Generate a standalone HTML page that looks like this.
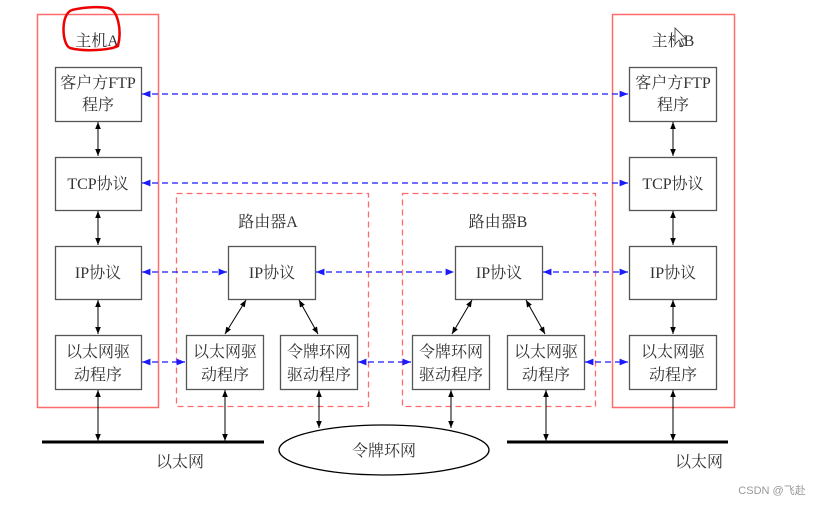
<!DOCTYPE html>
<html><head><meta charset="utf-8"><style>
html,body{margin:0;padding:0;background:#fff;}
svg{display:block;}
text{font-family:"Liberation Serif","Noto Serif CJK SC","Noto Sans CJK SC",serif;font-size:16px;fill:#333;text-anchor:middle;}
</style></head><body>
<svg width="835" height="505" viewBox="0 0 835 505" xmlns="http://www.w3.org/2000/svg">
<defs>
<marker id="bk" viewBox="0 0 10 10" refX="10" refY="5" markerWidth="7" markerHeight="7" orient="auto-start-reverse"><path d="M0,1 L10,5 L0,9 z" fill="#000"/></marker>
<marker id="bl" viewBox="0 0 10 10" refX="10" refY="5" markerWidth="7" markerHeight="7" orient="auto-start-reverse"><path d="M0,1 L10,5 L0,9 z" fill="#1a1aff"/></marker>
</defs>
<rect x="37.5" y="14.5" width="121" height="393" fill="none" stroke="#ff6b6b" stroke-width="1.5"/>
<rect x="612.5" y="14.5" width="122" height="393" fill="none" stroke="#ff6b6b" stroke-width="1.5"/>
<rect x="176.5" y="193.5" width="192" height="213" fill="none" stroke="#ff6b6b" stroke-width="1.3" stroke-dasharray="6,4"/>
<rect x="402.5" y="193.5" width="193" height="213" fill="none" stroke="#ff6b6b" stroke-width="1.3" stroke-dasharray="6,4"/>
<text x="97" y="46">主机A</text>
<text x="673" y="46">主机B</text>
<text x="268" y="227">路由器A</text>
<text x="498" y="227">路由器B</text>
<path d="M72,10 C60,14 62,45 70,48 C85,52 110,50 118,46 C122,30 118,10 108,8 C95,6 80,8 72,10" fill="none" stroke="#e00" stroke-width="2.5"/>
<g fill="#fff" stroke="#555" stroke-width="1.3">
<rect x="55.5" y="67.5" width="86" height="54"/>
<rect x="55.5" y="157.5" width="86" height="53"/>
<rect x="55.5" y="246.5" width="86" height="53"/>
<rect x="55.5" y="335.5" width="86" height="54"/>
<rect x="629.5" y="67.5" width="87" height="54"/>
<rect x="629.5" y="157.5" width="87" height="53"/>
<rect x="629.5" y="246.5" width="87" height="53"/>
<rect x="629.5" y="335.5" width="87" height="54"/>
<rect x="228.5" y="246.5" width="87" height="53"/>
<rect x="455.5" y="246.5" width="87" height="53"/>
<rect x="186.5" y="335.5" width="77" height="54"/>
<rect x="280.5" y="335.5" width="77" height="54"/>
<rect x="412.5" y="335.5" width="77" height="54"/>
<rect x="507.5" y="335.5" width="77" height="54"/>
</g>
<text x="98" y="88">客户方FTP</text><text x="98" y="110">程序</text>
<text x="98" y="189">TCP协议</text>
<text x="98" y="278">IP协议</text>
<text x="98" y="357">以太网驱</text><text x="98" y="380">动程序</text>
<text x="673" y="88">客户方FTP</text><text x="673" y="110">程序</text>
<text x="673" y="189">TCP协议</text>
<text x="673" y="278">IP协议</text>
<text x="673" y="357">以太网驱</text><text x="673" y="380">动程序</text>
<text x="272" y="278">IP协议</text>
<text x="499" y="278">IP协议</text>
<text x="225" y="357">以太网驱</text><text x="225" y="380">动程序</text>
<text x="319" y="357">令牌环网</text><text x="319" y="380">驱动程序</text>
<text x="451" y="357">令牌环网</text><text x="451" y="380">驱动程序</text>
<text x="546" y="357">以太网驱</text><text x="546" y="380">动程序</text>
<g stroke="#000" stroke-width="1" marker-start="url(#bk)" marker-end="url(#bk)">
<line x1="98" y1="122" x2="98" y2="156"/>
<line x1="98" y1="211" x2="98" y2="245"/>
<line x1="98" y1="300" x2="98" y2="334"/>
<line x1="673" y1="122" x2="673" y2="156"/>
<line x1="673" y1="211" x2="673" y2="245"/>
<line x1="673" y1="300" x2="673" y2="334"/>
<line x1="98" y1="390" x2="98" y2="441"/>
<line x1="673" y1="390" x2="673" y2="441"/>
<line x1="225" y1="390" x2="225" y2="441"/>
<line x1="546" y1="390" x2="546" y2="441"/>
<line x1="319" y1="390" x2="319" y2="428"/>
<line x1="451" y1="390" x2="451" y2="428"/>
<line x1="246" y1="300" x2="225" y2="334"/>
<line x1="299" y1="300" x2="318" y2="334"/>
<line x1="472" y1="300" x2="452" y2="334"/>
<line x1="526" y1="300" x2="545" y2="334"/>
</g>
<g stroke="#1a1aff" stroke-width="1.2" stroke-dasharray="6,4" marker-start="url(#bl)" marker-end="url(#bl)">
<line x1="142" y1="94" x2="628" y2="94"/>
<line x1="142" y1="183" x2="628" y2="183"/>
<line x1="142" y1="272" x2="227" y2="272"/>
<line x1="316" y1="272" x2="454" y2="272"/>
<line x1="543" y1="272" x2="628" y2="272"/>
<line x1="142" y1="362" x2="185" y2="362"/>
<line x1="358" y1="362" x2="411" y2="362"/>
<line x1="585" y1="362" x2="628" y2="362"/>
</g>
<line x1="42" y1="442" x2="264" y2="442" stroke="#000" stroke-width="3"/>
<line x1="507" y1="442" x2="728" y2="442" stroke="#000" stroke-width="3"/>
<ellipse cx="384" cy="450" rx="105" ry="25" fill="#fff" stroke="#000" stroke-width="1.3"/>
<text x="384" y="456">令牌环网</text>
<text x="180" y="467">以太网</text>
<text x="699" y="467">以太网</text>
<text x="772" y="494" style="font-family:'Liberation Sans','Noto Sans CJK SC',sans-serif;font-size:11px;fill:#999">CSDN @飞赴</text>
<path d="M675,28 L675,44 L679,40 L682,46 L684,45 L681,39 L686,39 Z" fill="#fff" stroke="#333" stroke-width="0.8"/>
</svg>
</body></html>
